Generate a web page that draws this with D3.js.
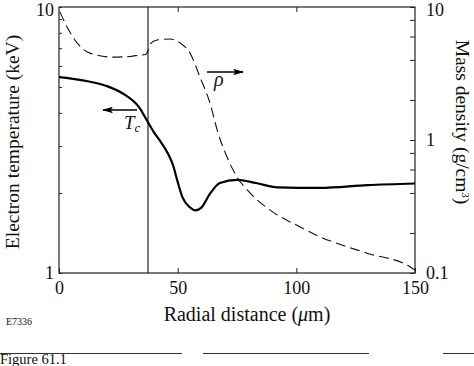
<!DOCTYPE html>
<html><head><meta charset="utf-8">
<script src="https://cdn.jsdelivr.net/npm/d3@7/dist/d3.min.js"></script>
<style>
body{margin:0;background:#fff;}
text{font-family:"Liberation Serif","Times New Roman",serif;fill:#111;}
</style></head>
<body><svg id="c" width="474" height="366"></svg>
<script>
// Electron temperature Te (keV), left log axis
const teRadius = [0,10,20,28,34,37,40,43,46,48,50,52,55,57.5,60,63.5,67.8,75,83,92,110,130,150];
const teValues = [5.45,5.3,5.05,4.66,4.17,3.75,3.38,3.1,2.8,2.55,2.2,1.93,1.77,1.72,1.76,1.98,2.18,2.24,2.18,2.1,2.09,2.14,2.17];
// Mass density rho (g/cm^3), right log axis
const rhoRadius = [0.4,3.4,7.6,13,22.8,30,34,36.5,37.5,38.5,41.3,46.8,51,55.2,59.4,63.6,67,70.8,75,80.5,90.2,101.6,110,115.5,129.8,148,150];
const rhoValues = [9.2,7.08,5.37,4.5,4.2,4.25,4.35,4.4,4.7,5.3,5.65,5.74,5.37,4.5,2.97,1.9,1.13,0.745,0.527,0.4,0.287,0.222,0.187,0.171,0.141,0.111,0.105];
const shockRadius = 37.5;
const xTicks = [0,50,100,150];
const leftTicks = [1,2,3,4,5,6,7,8,9,10];
const rightTicks = [0.1,0.2,0.4,0.6,0.8,1,2,4,6,8,10];
const leftLabels = {1:"1",10:"10"};
const rightLabels = {0.1:"0.1",1:"1",10:"10"};

const svg = d3.select("#c");
const L=59,R=415,T=7,B=273;
const x = d3.scaleLinear([0,150],[L,R]);
const yL = d3.scaleLog([1,10],[B,T]);
const yR = d3.scaleLog([0.1,10],[B,T]);

const ax = (g)=>{g.select(".domain").remove(); g.selectAll("line").attr("stroke","#222").attr("stroke-width",1);};

svg.append("g").attr("transform",`translate(0,${B})`)
  .call(d3.axisBottom(x).tickValues(xTicks).tickSizeInner(-5).tickSizeOuter(0).tickFormat(d3.format("d")))
  .call(ax).selectAll("text").attr("font-size",18).attr("y",21).attr("dy",0);
svg.append("g").attr("transform",`translate(0,${T})`)
  .call(d3.axisTop(x).tickValues([50,100]).tickSizeInner(-5).tickSizeOuter(0).tickFormat(""))
  .call(ax);
svg.append("g").attr("transform",`translate(${L},0)`)
  .call(d3.axisLeft(yL).tickValues(leftTicks).tickSizeInner(-3).tickSizeOuter(0).tickPadding(5).tickFormat(d=>leftLabels[d]||""))
  .call(ax).selectAll("text").attr("font-size",18).attr("dy",d=>d===10?"0.45em":"0.3em");
svg.append("g").attr("transform",`translate(${R},0)`)
  .call(d3.axisRight(yR).tickValues(rightTicks).tickSizeInner(-5).tickSizeOuter(0).tickPadding(11).tickFormat(d=>rightLabels[d]||""))
  .call(ax).selectAll("text").attr("font-size",18).attr("dy",d=>d===10?"0.45em":"0.32em");

svg.append("rect").attr("x",L).attr("y",T).attr("width",R-L).attr("height",B-T)
  .attr("fill","none").attr("stroke","#222").attr("stroke-width",1.2);

// shock vertical line
svg.append("line").attr("x1",x(shockRadius)).attr("x2",x(shockRadius)).attr("y1",T).attr("y2",B)
  .attr("stroke","#222").attr("stroke-width",1.2);

const teLine = d3.line().x((d,i)=>x(teRadius[i])).y(d=>yL(d)).curve(d3.curveMonotoneX);
svg.append("path").attr("d",teLine(teValues)).attr("fill","none").attr("stroke","#000").attr("stroke-width",2.2);

const rhoLine = d3.line().x((d,i)=>x(rhoRadius[i])).y(d=>yR(d)).curve(d3.curveMonotoneX);
svg.append("path").attr("d",rhoLine(rhoValues)).attr("fill","none").attr("stroke","#111").attr("stroke-width",1.1)
  .attr("stroke-dasharray","10,5");

// arrows
const defs = svg.append("defs");
defs.append("marker").attr("id","ah").attr("viewBox","0 0 10 6").attr("refX",9).attr("refY",3)
  .attr("markerWidth",11).attr("markerHeight",7).attr("markerUnits","userSpaceOnUse").attr("orient","auto")
  .append("path").attr("d","M0,0 L10,3 L0,6 L2,3 Z").attr("fill","#000");
svg.append("line").attr("x1",137).attr("y1",110).attr("x2",103).attr("y2",110)
  .attr("stroke","#000").attr("stroke-width",1.6).attr("marker-end","url(#ah)");
svg.append("line").attr("x1",207).attr("y1",72).attr("x2",243).attr("y2",72)
  .attr("stroke","#000").attr("stroke-width",1.6).attr("marker-end","url(#ah)");
const tc = svg.append("text").attr("x",124).attr("y",129).attr("font-size",19).attr("font-style","italic");
tc.append("tspan").text("T");
tc.append("tspan").attr("font-size",13).attr("dy",3).text("c");
svg.append("text").attr("x",214).attr("y",86).attr("font-size",20).attr("font-style","italic").text("ρ");

// axis titles
svg.append("text").attr("x",247).attr("y",321).attr("text-anchor","middle").attr("font-size",20)
  .html('Radial distance (<tspan font-style="italic">μ</tspan>m)');
svg.append("text").attr("transform","translate(19,142) rotate(-90)").attr("text-anchor","middle").attr("font-size",19.5)
  .text("Electron temperature (keV)");
svg.append("text").attr("transform","translate(456,122) rotate(90)").attr("text-anchor","middle").attr("font-size",19.5)
  .html('Mass density (g/cm<tspan font-size="11" dy="-6">3</tspan><tspan dy="6">)</tspan>');

svg.append("text").attr("x",6).attr("y",325).attr("font-size",10).text("E7336");
[[0,182],[203,369],[443,474]].forEach(s=>svg.append("line").attr("x1",s[0]).attr("x2",s[1]).attr("y1",353.5).attr("y2",353.5).attr("stroke","#333").attr("stroke-width",1));
svg.append("text").attr("x",0).attr("y",364).attr("font-size",14.5).text("Figure 61.1");
</script></body></html>
